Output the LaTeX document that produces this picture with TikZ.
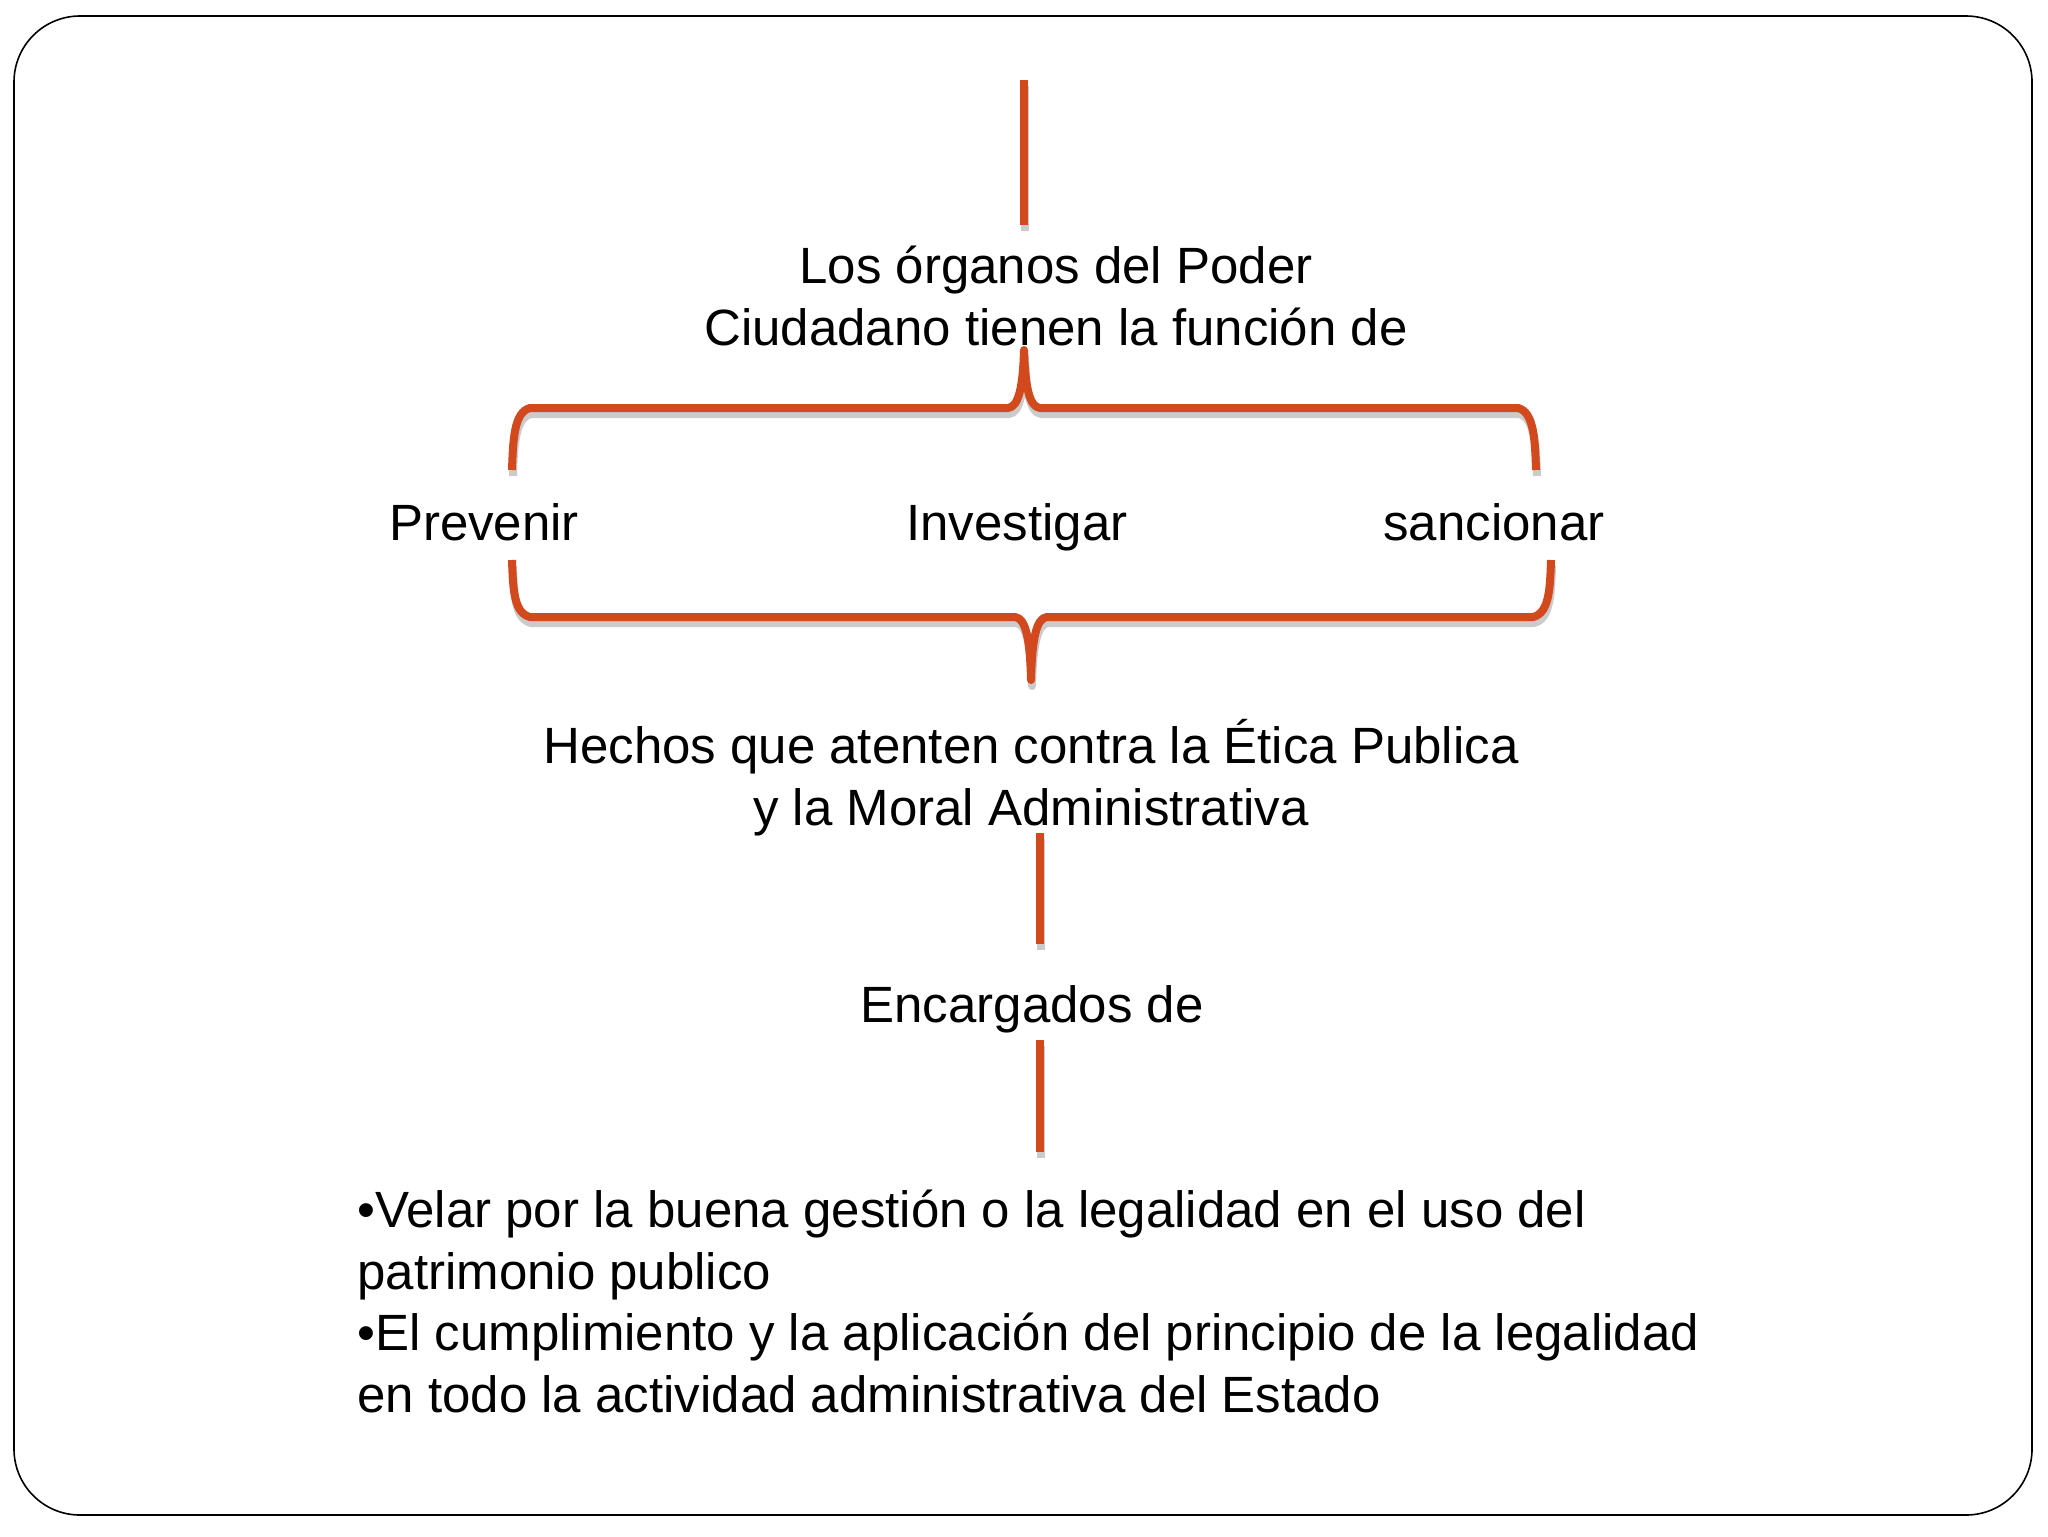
\documentclass[tikz,border=0pt]{standalone}
\usepackage{fontspec}
\setmainfont{Liberation Sans}
\definecolor{brc}{RGB}{209,73,29}
\newcommand\bracetopshape[1]{\draw[#1] (512,470) .. controls (513,440) and (514,412) .. (530,408) -- (1008,408) .. controls (1019,407) and (1023,385) .. (1024,350) .. controls (1025,385) and (1029,407) .. (1040,408) -- (1518,408) .. controls (1534,412) and (1535,440) .. (1536,470);}
\newcommand\bracebotshape[1]{\draw[#1] (512,560) .. controls (513,590) and (514,613) .. (530,617) -- (1015,617) .. controls (1026,618) and (1030,640) .. (1031,680) .. controls (1032,640) and (1036,618) .. (1047,617) -- (1533,617) .. controls (1549,613) and (1550,590) .. (1551,560);}
\begin{document}
\begin{tikzpicture}[x=0.5pt,y=-0.5pt,
  txt/.style={font=\fontsize{25.5}{31}\selectfont, inner sep=0pt, align=center},
  bar/.style={draw=brc, line width=4pt, line join=round},
  shd/.style={draw=black!40, line width=4pt, opacity=0.5, line join=round},
]
\useasboundingbox (0,0) rectangle (2048,1536);
\fill[white] (0,0) rectangle (2048,1536);
\draw[line width=0.8pt, rounded corners=33pt] (14,16) rectangle (2032,1515);

% text nodes (base anchor = baseline of the last line)
\node[txt, anchor=base] (organos) at (1056,345) {Los órganos del Poder\\Ciudadano tienen la función de};
\node[txt, anchor=base] (prevenir) at (484,540) {Prevenir};
\node[txt, anchor=base] (investigar) at (1017,540) {Investigar};
\node[txt, anchor=base] (sancionar) at (1494,540) {sancionar};
\node[txt, anchor=base] (hechos) at (1031,825) {Hechos que atenten contra la Ética Publica\\y la Moral Administrativa};
\node[txt, anchor=base] (encargados) at (1032,1022) {Encargados de};
\node[txt, font=\fontsize{25.5}{30.7}\selectfont, align=left, anchor=base west] (velar) at (357,1412) {•Velar por la buena gestión o la legalidad en el uso del\\patrimonio publico\\•El cumplimiento y la aplicación del principio de la legalidad\\en todo la actividad administrativa del Estado};

% connector coordinates
\coordinate (l1top) at (1024,80);
\coordinate (l1bot) at (1024,225);
\coordinate (l2top) at (1040,833);
\coordinate (l2bot) at (1040,944);
\coordinate (l3top) at (1040,1040);
\coordinate (l3bot) at (1040,1152);

% shadows
\foreach \a/\b in {l1top/l1bot,l2top/l2bot,l3top/l3bot}
  \draw[shd] ([xshift=0.5pt,yshift=-3pt]\a) -- ([xshift=0.5pt,yshift=-3pt]\b);
\begin{scope}[shift={(1,6)}]
  \bracetopshape{shd}
  \bracebotshape{shd}
\end{scope}

% lines and braces
\draw[bar] (l1top) -- (l1bot);
\draw[bar] (l2top) -- (l2bot);
\draw[bar] (l3top) -- (l3bot);
\bracetopshape{bar}
\bracebotshape{bar}
\end{tikzpicture}
\end{document}
